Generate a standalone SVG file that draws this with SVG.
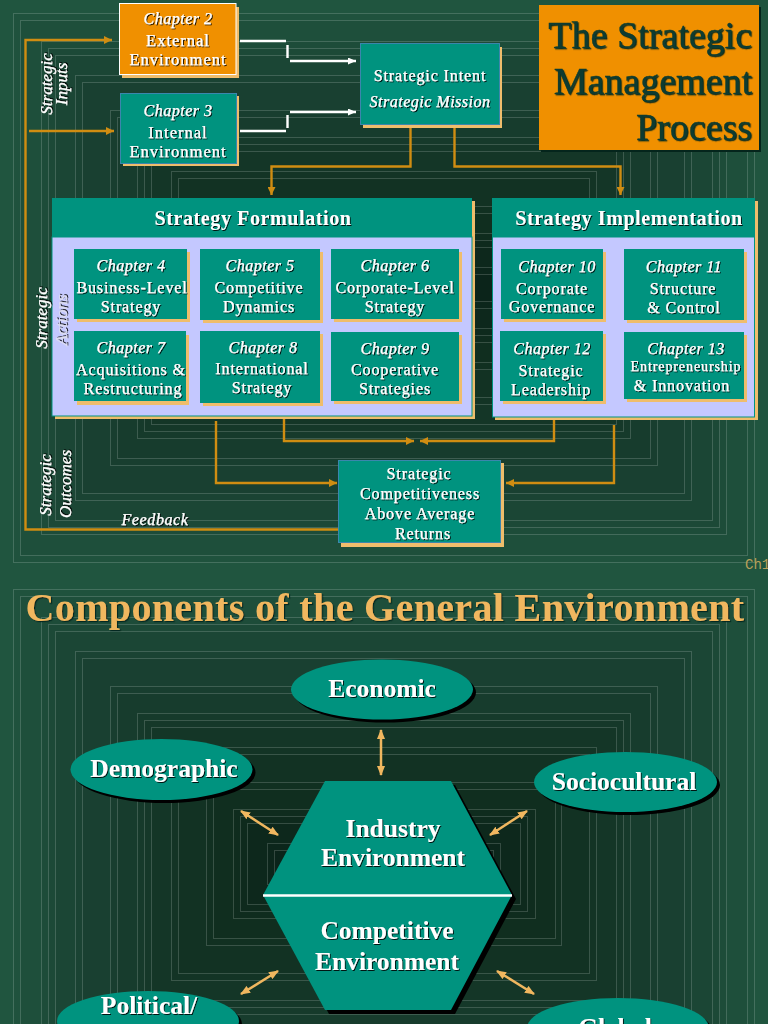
<svg xmlns="http://www.w3.org/2000/svg" width="768" height="1024" viewBox="0 0 768 1024">
<defs>
<style>
.bg{fill:#20553f}
.r{fill:#000;fill-opacity:.03;stroke:#fff;stroke-opacity:.17;stroke-width:1}
text{font-family:"Liberation Serif","Times New Roman",serif;text-anchor:middle}
.w{fill:#fff;stroke:#fff;stroke-width:.25;font-size:16px;letter-spacing:.9px;filter:url(#ts)}
.l{font-size:16.5px;letter-spacing:1px}
.i{font-style:italic;letter-spacing:.5px}
.h{fill:#fff;font-size:20px;font-weight:bold;letter-spacing:.6px;filter:url(#ts)}
.v{fill:#fff;stroke:#fff;stroke-width:.25;font-size:17px;font-style:italic;filter:url(#ts)}
.t{fill:#0a3b30;stroke:#0a3b30;stroke-width:.3;font-size:38px;text-anchor:end;filter:url(#tk)}
.c{fill:#f0b75f;font-size:40px;font-weight:bold;letter-spacing:.35px;filter:url(#tk)}
.e{fill:#fff;font-size:25.500px;font-weight:bold;filter:url(#ts)}
.teal{fill:#00937f}
.bl{stroke:#3b86ad;stroke-width:1}
.tan{fill:#efbd6c}
.o{fill:none;stroke:#d08d12;stroke-width:2.400}
.wl{fill:none;stroke:#fff;stroke-width:2.400}
.da{fill:none;stroke:#f0b75f;stroke-width:2.500;marker-start:url(#am);marker-end:url(#am)}
.sh{fill:#000}
</style>
<filter id="ts" x="-10%" y="-20%" width="120%" height="150%"><feDropShadow dx="1" dy="1" stdDeviation=".4" flood-color="#000" flood-opacity=".85"/></filter>
<filter id="tk" x="-5%" y="-10%" width="110%" height="130%"><feDropShadow dx="1.200" dy="1.200" stdDeviation=".3" flood-color="#04201a" flood-opacity=".9"/></filter>
<marker id="ao" markerWidth="10" markerHeight="8" refX="8" refY="4" orient="auto" markerUnits="userSpaceOnUse"><path d="M0 0L8 4L0 8z" fill="#d08d12"/></marker>
<marker id="aw" markerWidth="10" markerHeight="8" refX="8" refY="3.500" orient="auto" markerUnits="userSpaceOnUse"><path d="M0 0L8 3.500L0 7z" fill="#fff"/></marker>
<marker id="am" markerWidth="10" markerHeight="8" refX="9" refY="4" orient="auto-start-reverse" markerUnits="userSpaceOnUse"><path d="M0 0L10 4L0 8z" fill="#f0b75f"/></marker>
<g id="rings">
<rect class="r" x="13.500" y="13.500" width="741" height="549"/>
<rect class="r" x="20.500" y="20.500" width="727" height="535"/>
<rect class="r" x="41.500" y="41.500" width="685" height="493"/>
<rect class="r" x="48.500" y="48.500" width="671" height="479"/>
<rect class="r" x="55.500" y="55.500" width="657" height="465"/>
<rect class="r" x="75.500" y="75.500" width="616" height="425"/>
<rect class="r" x="82.500" y="82.500" width="602" height="411"/>
<rect class="r" x="110.500" y="110.500" width="547" height="355"/>
<rect class="r" x="117.500" y="117.500" width="533" height="341"/>
<rect class="r" x="137.500" y="137.500" width="493" height="301"/>
<rect class="r" x="144.500" y="144.500" width="479" height="287"/>
<rect class="r" x="151.500" y="151.500" width="465" height="273"/>
<rect class="r" x="171.500" y="171.500" width="425" height="233"/>
<rect class="r" x="178.500" y="178.500" width="411" height="219"/>
<rect class="r" x="206.500" y="206.500" width="355" height="163"/>
<rect class="r" x="213.500" y="213.500" width="342" height="149"/>
<rect class="r" x="233.500" y="233.500" width="302" height="109"/>
<rect class="r" x="240.500" y="240.500" width="287" height="95"/>
<rect class="r" x="247.500" y="247.500" width="273" height="81"/>
<rect class="r" x="267.500" y="267.500" width="233" height="41"/>
<rect class="r" x="274.500" y="274.500" width="219" height="27"/>
</g>
</defs>
<rect class="bg" width="768" height="1024"/>
<use href="#rings"/>
<use href="#rings" y="576"/>

<g id="connectors">
<path class="o" d="M338 529.500H25.500V40H112" marker-end="url(#ao)"/>
<path class="o" d="M29 131H114" marker-end="url(#ao)"/>
<path class="wl" d="M240 41H286M287.500 45V58"/>
<path class="wl" d="M290 61H356" marker-end="url(#aw)"/>
<path class="wl" d="M240 131H286M287.500 115V128"/>
<path class="wl" d="M290 112H356" marker-end="url(#aw)"/>
<path class="o" d="M410.500 127V166.500H271.500V195" marker-end="url(#ao)"/>
<path class="o" d="M454.500 127V166.500H620.500V195" marker-end="url(#ao)"/>
<path class="o" d="M216 421V483H337" marker-end="url(#ao)"/>
<path class="o" d="M284 418V441H414" marker-end="url(#ao)"/>
<path class="o" d="M554 420V441H420" marker-end="url(#ao)"/>
<path class="o" d="M614 425V483H506" marker-end="url(#ao)"/>
<path class="da" d="M381 730V775"/>
<path class="da" d="M241 811L278 835"/>
<path class="da" d="M490 835L527 811"/>
<path class="da" d="M241 994L278 971"/>
<path class="da" d="M497 971L534 994"/>
</g>

<g id="ch2"><rect class="tan" x="122" y="7" width="117" height="71"/><rect x="119.500" y="3.500" width="116.500" height="71" fill="#f09000" stroke="#fff"/>
<text class="w i" x="178" y="24">Chapter 2</text><text class="w l" x="178" y="46">External</text><text class="w l" x="178" y="65">Environment</text></g>
<g id="ch3"><rect class="tan" x="123" y="96" width="116" height="70"/><rect class="teal bl" x="120.500" y="93.500" width="116" height="70"/>
<text class="w i" x="178" y="116">Chapter 3</text><text class="w l" x="178" y="138">Internal</text><text class="w l" x="178" y="157">Environment</text></g>
<g id="intent"><rect class="tan" x="363" y="47" width="139" height="81"/><rect class="teal bl" x="360.500" y="43.500" width="139" height="81"/>
<text class="w" x="430" y="81">Strategic Intent</text><text class="w i" x="430" y="107">Strategic Mission</text></g>
<g id="title"><rect x="541" y="7" width="220" height="145" fill="#04251c"/><rect x="539" y="5" width="220" height="145" fill="#f09000"/>
<text class="t" x="752" y="48">The Strategic</text><text class="t" x="752" y="94">Management</text><text class="t" x="752" y="140">Process</text></g>

<g id="formulation"><rect class="tan" x="55" y="201" width="420" height="218"/><rect x="52" y="237" width="420" height="179" fill="#c4c8ff" stroke="#00937f"/><rect class="teal" x="52" y="198" width="420" height="39"/>
<text class="h" x="253" y="225">Strategy Formulation</text></g>
<g id="implementation"><rect class="tan" x="495" y="201" width="263" height="219"/><rect x="492.500" y="237" width="262" height="180" fill="#c4c8ff" stroke="#00937f"/><rect class="teal" x="492" y="198" width="263" height="39"/>
<text class="h" x="629" y="225">Strategy Implementation</text></g>

<g id="ch4"><rect class="tan" x="77" y="252" width="113" height="70"/><rect class="teal" x="74" y="249" width="113" height="70"/>
<text class="w i" x="131" y="271">Chapter 4</text><text class="w" x="132" y="293">Business-Level</text><text class="w" x="131" y="312">Strategy</text></g>
<g id="ch5"><rect class="tan" x="203" y="252" width="120" height="71"/><rect class="teal" x="200" y="249" width="120" height="71"/>
<text class="w i" x="260" y="271">Chapter 5</text><text class="w" x="259" y="293">Competitive</text><text class="w" x="259" y="312">Dynamics</text></g>
<g id="ch6"><rect class="tan" x="334" y="252" width="128" height="70"/><rect class="teal" x="331" y="249" width="128" height="70"/>
<text class="w i" x="395" y="271">Chapter 6</text><text class="w" x="395" y="293">Corporate-Level</text><text class="w" x="395" y="312">Strategy</text></g>
<g id="ch7"><rect class="tan" x="77" y="335" width="112" height="70"/><rect class="teal" x="74" y="331" width="112" height="70"/>
<text class="w i" x="131" y="353">Chapter 7</text><text class="w" x="131" y="375">Acquisitions &amp;</text><text class="w" x="133" y="394">Restructuring</text></g>
<g id="ch8"><rect class="tan" x="203" y="334" width="120" height="72"/><rect class="teal" x="200" y="331" width="120" height="72"/>
<text class="w i" x="263" y="353">Chapter 8</text><text class="w" x="262" y="374">International</text><text class="w" x="262" y="393">Strategy</text></g>
<g id="ch9"><rect class="tan" x="334" y="335" width="128" height="69"/><rect class="teal" x="331" y="332" width="128" height="69"/>
<text class="w i" x="395" y="354">Chapter 9</text><text class="w" x="395" y="375">Cooperative</text><text class="w" x="395" y="394">Strategies</text></g>
<g id="ch10"><rect class="tan" x="504" y="252" width="102" height="70"/><rect class="teal" x="501" y="249" width="102" height="70"/>
<text class="w i" x="557" y="272">Chapter 10</text><text class="w" x="552" y="294">Corporate</text><text class="w" x="552" y="312">Governance</text></g>
<g id="ch11"><rect class="tan" x="627" y="252" width="120" height="71"/><rect class="teal" x="624" y="249" width="120" height="71"/>
<text class="w i" x="684" y="272">Chapter 11</text><text class="w" x="683" y="294">Structure</text><text class="w" x="684" y="313">&amp; Control</text></g>
<g id="ch12"><rect class="tan" x="503" y="334" width="103" height="70"/><rect class="teal" x="500" y="331" width="103" height="70"/>
<text class="w i" x="552" y="354">Chapter 12</text><text class="w" x="551" y="376">Strategic</text><text class="w" x="551" y="395">Leadership</text></g>
<g id="ch13"><rect class="tan" x="627" y="335" width="120" height="67"/><rect class="teal" x="624" y="332" width="120" height="67"/>
<text class="w i" x="686" y="354">Chapter 13</text><text class="w" x="686" y="371" style="font-size:14px">Entrepreneurship</text><text class="w" x="682" y="391">&amp; Innovation</text></g>
<g id="outcome"><rect class="tan" x="341" y="463" width="163" height="84"/><rect class="teal bl" x="338.500" y="460.500" width="162" height="82"/>
<text class="w" x="419" y="479">Strategic</text><text class="w" x="420" y="499">Competitiveness</text><text class="w" x="420" y="519">Above Average</text><text class="w" x="423" y="539">Returns</text></g>

<g id="labels-side">
<text class="v" transform="translate(52 84) rotate(-90)">Strategic</text>
<text class="v" transform="translate(67 84) rotate(-90)">Inputs</text>
<text class="v" transform="translate(47 318) rotate(-90)">Strategic</text>
<text class="v" transform="translate(67 320) rotate(-90)" style="fill:#dcdcf2;stroke:#dcdcf2">Actions</text>
<text class="v" transform="translate(51 485) rotate(-90)">Strategic</text>
<text class="v" transform="translate(71 484) rotate(-90)">Outcomes</text>
<text class="v" x="155" y="525" style="font-size:16px;letter-spacing:.6px">Feedback</text>
<text x="745" y="569" style="fill:#b9a05a;font-family:'Liberation Mono',monospace;font-size:14px;text-anchor:start">Ch1</text>
</g>

<text class="c" x="385" y="620.500">Components of the General Environment</text>

<g id="economic"><ellipse class="sh" cx="385" cy="692.500" rx="91" ry="30"/><ellipse class="teal" cx="382" cy="689.500" rx="91" ry="30"/><text class="e" x="382" y="697">Economic</text></g>
<g id="demographic"><ellipse class="sh" cx="164.500" cy="772.500" rx="91" ry="30.500"/><ellipse class="teal" cx="161.500" cy="769.500" rx="91" ry="30.500"/><text class="e" x="164" y="777">Demographic</text></g>
<g id="sociocultural"><ellipse class="sh" cx="628.500" cy="785" rx="91.500" ry="30"/><ellipse class="teal" cx="625.500" cy="782" rx="91.500" ry="30"/><text class="e" x="624" y="790">Sociocultural</text></g>
<g id="political"><ellipse class="sh" cx="151" cy="1024" rx="91" ry="30"/><ellipse class="teal" cx="148" cy="1021" rx="91" ry="30"/><text class="e" x="149" y="1014">Political/</text></g>
<g id="global"><ellipse class="sh" cx="621" cy="1031" rx="91" ry="30"/><ellipse class="teal" cx="618" cy="1028" rx="91" ry="30"/><text class="e" x="615" y="1036">Global</text></g>
<g id="hexagon"><path class="sh" d="M329 785H455L516 899L455 1014H329L267 899z"/><path class="teal" d="M325 781H451L512 895L451 1010H325L263 895z"/><path d="M263 895.500H512" stroke="#fff" stroke-width="2.500" fill="none"/>
<text class="e" x="393" y="837">Industry</text><text class="e" x="393" y="866">Environment</text><text class="e" x="387" y="939">Competitive</text><text class="e" x="387" y="970">Environment</text></g>
</svg>
